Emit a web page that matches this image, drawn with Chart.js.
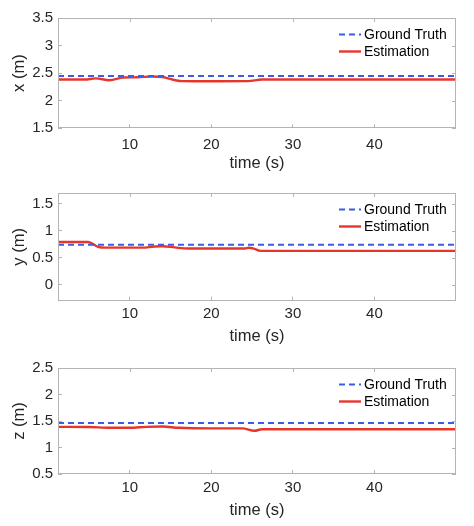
<!DOCTYPE html>
<html>
<head>
<meta charset="utf-8">
<script src="https://cdn.jsdelivr.net/npm/chart.js@4/dist/chart.umd.min.js"></script>
<style>
html,body{margin:0;padding:0;background:#fff;}
body{width:474px;height:526px;position:relative;overflow:hidden;}
.panel{position:absolute;left:0;width:474px;}
</style>
</head>
<body>
<div class="panel" style="top:0;height:175px"><canvas id="c0"></canvas></div>
<div class="panel" style="top:175px;height:175px"><canvas id="c1"></canvas></div>
<div class="panel" style="top:350px;height:176px"><canvas id="c2"></canvas></div>
<script>
// ---- data ----
const timeTicks = [10, 20, 30, 40];
const legendLabels = ['Ground Truth', 'Estimation'];
const yTitles = ['x (m)', 'y (m)', 'z (m)'];
const xTitle = 'time (s)';

const gtTime = [1.2, 50];
const gtX = [2.45, 2.45];
const gtY = [0.74, 0.74];
const gtZ = [1.46, 1.46];

const estTimeX = [1.2, 4.5, 5.8, 7.5, 9.2, 11, 12.7, 14, 14.8, 16.4, 20, 24.5, 26.2, 30, 40, 50];
const estX     = [2.385, 2.385, 2.405, 2.372, 2.42, 2.425, 2.44, 2.43, 2.40, 2.355, 2.352, 2.355, 2.385, 2.385, 2.385, 2.385];

const estTimeY = [1.2, 4.9, 6.1, 7, 11.5, 13, 14, 15.5, 17.1, 24.1, 24.6, 25.2, 26, 30, 40, 50];
const estY     = [0.79, 0.79, 0.70, 0.685, 0.685, 0.705, 0.712, 0.69, 0.668, 0.668, 0.683, 0.668, 0.625, 0.625, 0.625, 0.625];

const estTimeZ = [1.2, 5, 7.5, 10, 12, 14, 16, 20, 23.8, 25.3, 26.2, 30, 40, 50];
const estZ     = [1.39, 1.388, 1.372, 1.372, 1.39, 1.395, 1.372, 1.36, 1.36, 1.315, 1.345, 1.345, 1.345, 1.345];

const yTicksX = [1.5, 2, 2.5, 3, 3.5];
const yTicksY = [0, 0.5, 1, 1.5];
const yTicksZ = [0.5, 1, 1.5, 2, 2.5];

// ---- helpers ----
const pts = (ts, vs) => ts.map((t, i) => ({x: t, y: vs[i]}));
const FONT = '"Liberation Sans", Arial, Helvetica, sans-serif';
const BLUE = '#3a5ce6';
const RED = '#e8352b';
const BOX = '#b4b4b4';
const TXT = '#262626';

const boxPlugin = {
  id: 'boxAndLegend',
  afterDraw(chart) {
    const {ctx, chartArea: a, scales} = chart;
    ctx.save();
    ctx.strokeStyle = BOX;
    ctx.lineWidth = 1;
    ctx.strokeRect(Math.round(a.left) + 0.5, Math.round(a.top) + 0.5,
                   Math.round(a.right - a.left) - 1, Math.round(a.bottom - a.top) - 1);
    ctx.beginPath();
    scales.x.ticks.forEach(t => {
      const px = Math.round(scales.x.getPixelForValue(t.value)) + 0.5;
      ctx.moveTo(px, a.top); ctx.lineTo(px, a.top + 4);
    });
    scales.y.ticks.forEach(t => {
      const py = Math.round(scales.y.getPixelForValue(t.value)) + 0.5;
      ctx.moveTo(a.right, py); ctx.lineTo(a.right - 4, py);
    });
    ctx.stroke();
    // legend
    ctx.font = '14px ' + FONT;
    ctx.textBaseline = 'middle';
    ctx.textAlign = 'left';
    chart.data.datasets.forEach((ds, i) => {
      const y = a.top + 16.5 + i * 17;
      ctx.strokeStyle = ds.borderColor;
      ctx.lineWidth = ds.borderWidth;
      ctx.setLineDash(ds.borderDash || []);
      ctx.beginPath();
      ctx.moveTo(a.right - 117, y); ctx.lineTo(a.right - 95, y);
      ctx.stroke();
      ctx.setLineDash([]);
      ctx.fillStyle = '#000';
      ctx.fillText(ds.label, a.right - 92, y + 0.5);
    });
    ctx.restore();
  }
};

function makeChart(id, gtVals, estT, estV, yTicks, yMin, yMax, yTitle, padTop, plotH, canvasH, xPad, tPad) {
  new Chart(document.getElementById(id), {
    type: 'line',
    data: {
      datasets: [
        {label: legendLabels[0], data: pts(gtTime, gtVals), borderColor: BLUE, borderWidth: 2,
         borderDash: [6, 4], pointRadius: 0, fill: false},
        {label: legendLabels[1], data: pts(estT, estV), borderColor: RED, borderWidth: 2.4,
         pointRadius: 0, fill: false, cubicInterpolationMode: 'monotone'}
      ]
    },
    options: {
      responsive: true,
      maintainAspectRatio: false,
      animation: false,
      events: [],
      layout: {padding: {top: padTop, right: 18, left: 0, bottom: 0}},
      plugins: {legend: {display: false}, tooltip: {enabled: false}},
      scales: {
        x: {
          type: 'linear', min: 1.2, max: 50,
          afterBuildTicks: s => { s.ticks = timeTicks.map(v => ({value: v})); },
          afterFit: s => { s.height = canvasH - padTop - plotH; },
          grid: {display: true, drawOnChartArea: false, drawTicks: true, tickLength: -4, color: BOX},
          border: {display: false},
          ticks: {color: TXT, font: {family: FONT, size: 15}, padding: xPad, maxRotation: 0,
                  callback: v => String(v)},
          title: {display: true, text: xTitle, color: TXT, font: {family: FONT, size: 16.5},
                  padding: {top: 0, bottom: tPad}}
        },
        y: {
          type: 'linear', min: yMin, max: yMax,
          afterBuildTicks: s => { s.ticks = yTicks.map(v => ({value: v})); },
          afterFit: s => { s.width = 58; },
          grid: {display: true, drawOnChartArea: false, drawTicks: true, tickLength: -4, color: BOX},
          border: {display: false},
          ticks: {color: TXT, font: {family: FONT, size: 15}, padding: 9,
                  callback: v => String(v)},
          title: {display: true, text: yTitle, color: TXT, font: {family: FONT, size: 16.5},
                  padding: {top: 10, bottom: 0}}
        }
      }
    },
    plugins: [boxPlugin]
  });
}

makeChart('c0', gtX, estTimeX, estX, yTicksX, 1.5, 3.5, yTitles[0], 17, 111.3, 175, 11.5, 1.2);
makeChart('c1', gtY, estTimeY, estY, yTicksY, -0.3, 1.7, yTitles[1], 15, 110.7, 175, 8.5, 3.4);
makeChart('c2', gtZ, estTimeZ, estZ, yTicksZ, 0.5, 2.5, yTitles[2], 13.3, 110.7, 176, 9, 6);
</script>
</body>
</html>
